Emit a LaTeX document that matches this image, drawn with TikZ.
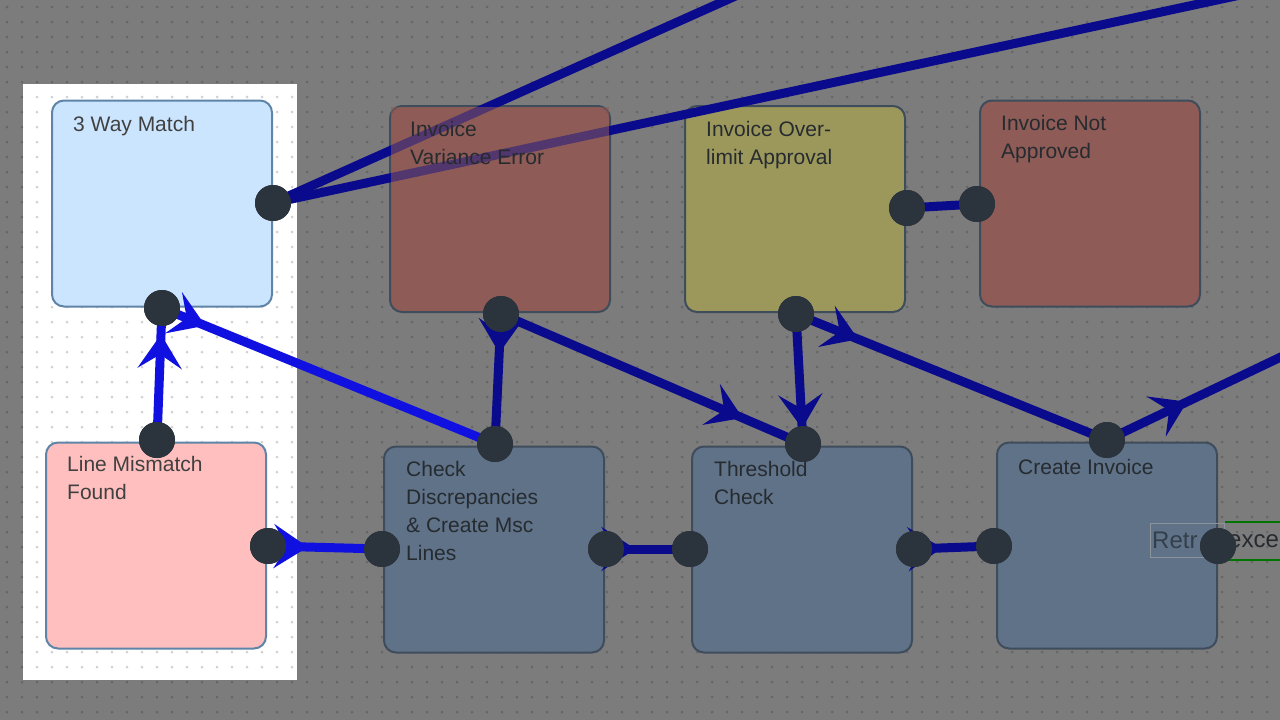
\documentclass[tikz,border=0pt]{standalone}
\usepackage{fontspec}
\setmainfont{Liberation Sans}
\usetikzlibrary{arrows.meta,decorations.markings,calc}
\definecolor{bgc}{HTML}{7C7C7C}
\definecolor{dotc}{HTML}{666666}
\definecolor{redd}{HTML}{8E5B56}
\definecolor{oliv}{HTML}{9C985C}
\definecolor{bgray}{HTML}{5F7288}
\definecolor{bordd}{HTML}{3E4C5C}
\definecolor{lblue}{HTML}{CCE5FF}
\definecolor{lpink}{HTML}{FFBFBF}
\definecolor{lbord}{HTML}{5F84A8}
\definecolor{edged}{HTML}{0A0A8C}
\definecolor{edgeb}{HTML}{1010E0}
\definecolor{portc}{HTML}{2B333D}
\definecolor{txtd}{HTML}{262B30}
\tikzset{
 box/.style={draw=bordd,line width=2pt,rounded corners=12pt,minimum width=220pt,minimum height=206pt,inner sep=0pt},
 lbl/.style={anchor=north west,align=left,font=\fontsize{21pt}{28pt}\selectfont,text=txtd,inner sep=0pt},
 port/.style={circle,fill=portc,minimum size=36pt,inner sep=0pt},
 conn/.style={line width=9pt,draw=edged},
 mid/.style={postaction={decorate},decoration={markings,mark=at position #1 with {\arrow{Stealth[length=34pt,width=44pt,inset=14pt]}}}}
}
\begin{document}
\begin{tikzpicture}[x=1pt,y=-1pt]
\useasboundingbox (0,0) rectangle (1280,720);
\fill[bgc] (0,0) rectangle (1280,720);
\foreach \x in {7,22,...,1280} \foreach \y in {7,22,...,720} \fill[dotc] (\x,\y) circle (1.5);
\fill[white] (23,84) rectangle (297,680);
\begin{scope}
\clip (23,84) rectangle (297,680);
\foreach \x in {7,22,...,300} \foreach \y in {82,97,...,680} \fill[black!18] (\x,\y) circle (1.5);
\end{scope}
% boxes
\node[box,fill=lblue,draw=lbord] (b1) at (162,203.5) {};
\node[box,fill=lpink,draw=lbord] (b2) at (156,545.5) {};
\node[box,fill=redd] (b3) at (500,209) {};
\node[box,fill=oliv] (b4) at (795,209) {};
\node[box,fill=redd] (b5) at (1090,203.5) {};
\node[box,fill=bgray] (b6) at (494,549.5) {};
\node[box,fill=bgray] (b7) at (802,549.5) {};
\node[box,fill=bgray] (b8) at (1107,545.5) {};
\node[lbl,text=black!75] at (73,116) {3 Way Match};
\node[lbl,text=black!75] at (67,456) {Line Mismatch\\Found};
\node[lbl] at (706,121) {Invoice Over-\\limit Approval};
\node[lbl] at (1001,115) {Invoice Not\\Approved};
\node[lbl] at (406,461) {Check\\Discrepancies\\\& Create Msc\\Lines};
\node[lbl] at (714,461) {Threshold\\Check};
\node[lbl] at (1018,459) {Create Invoice};
% right partial element
\draw[green!45!black,line width=2pt] (1225,522) -- (1280,522) (1225,560) -- (1280,560);
\node[anchor=west,inner sep=0pt,font=\fontsize{24pt}{28pt}\selectfont,text=txtd] (ex) at (1228,541) {exce};
\node[draw=bordd!60,anchor=west,inner sep=2pt,font=\fontsize{24pt}{28pt}\selectfont,text=black!45!bgray,minimum width=74pt,minimum height=34pt,align=left,text width=70pt] (rt) at (1150,540) {Retr};
% ports
\node[port] (p1) at (273,203) {};
\node[port] (p2) at (162,308) {};
\node[port] (p3) at (157,440) {};
\node[port] (p4) at (268,546) {};
\node[port] (p5) at (382,549) {};
\node[port] (p6) at (606,549) {};
\node[port] (p7) at (690,549) {};
\node[port] (p8) at (914,549) {};
\node[port] (p9) at (994,546) {};
\node[port] (p10) at (1218,546) {};
\node[port] (p11) at (907,208) {};
\node[port] (p12) at (977,204) {};
\node[port] (p13) at (501,314) {};
\node[port] (p14) at (495,444) {};
\node[port] (p15) at (796,314) {};
\node[port] (p16) at (803,444) {};
\node[port] (p17) at (1107,440) {};
\coordinate (t1) at (740,-6);
\coordinate (t2) at (1245,-6);
\coordinate (r1) at (1285,355);
% connectors
\draw[conn] (p1.center) -- (t1);
\draw[conn] (p1.center) -- (t2);
\fill[redd,opacity=0.55] ($(b3.north west)+(2,2)$) rectangle ($(b3.north east)+(-2,80)$);
\node[lbl] at (410,121) {Invoice\\Variance Error};
\draw[conn,draw=edgeb,mid=0.13] (p2.center) -- (p14.center);
\draw[conn,draw=edgeb,mid=0.8] (p3.center) -- (p2.center);
\draw[conn,draw=edgeb,mid=0.35] (p4.center) -- (p5.center);
\draw[conn,mid=0.35] (p6.center) -- (p7.center);
\draw[conn,mid=0.35] (p8.center) -- (p9.center);
\draw[conn] (p11.center) -- (p12.center);
\draw[conn,mid=0.3] (p13.center) -- (p14.center);
\draw[conn,mid=0.8] (p13.center) -- (p16.center);
\draw[conn,mid=0.88] (p15.center) -- (p16.center);
\draw[conn,mid=0.2] (p15.center) -- (p17.center);
\draw[conn,mid=0.45] (p17.center) -- (r1);
\foreach \p in {p1,p2,p3,p4,p5,p6,p7,p8,p9,p10,p11,p12,p13,p14,p15,p16,p17}
  \fill[portc] (\p) circle (18);
\end{tikzpicture}
\end{document}
